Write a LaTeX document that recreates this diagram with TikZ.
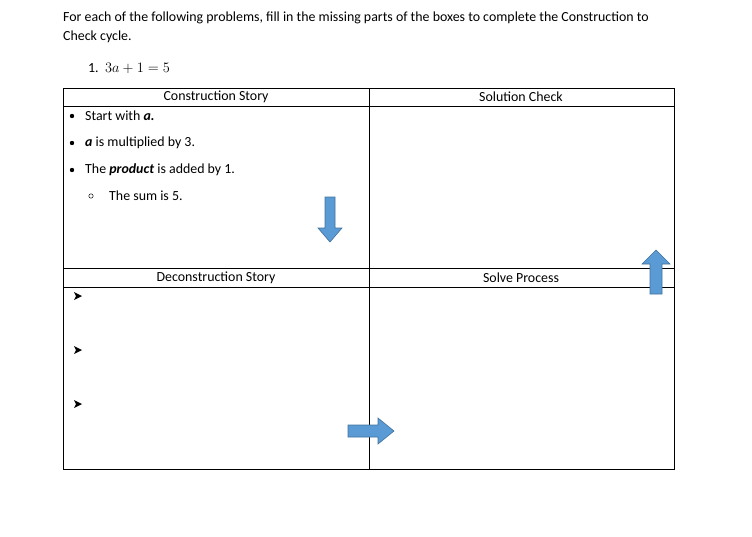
\documentclass[tikz,border=0pt]{standalone}
\usepackage{fontspec}
\setmainfont{Carlito}
\begin{document}
\begin{tikzpicture}[x=1pt,y=-1pt,
  txt/.style={anchor=west,inner sep=0pt,font=\fontsize{13.9}{16}\selectfont},
  hdr/.style={inner sep=0pt,font=\fontsize{13.9}{16}\selectfont},
  barrow/.style={fill={rgb,255:red,91;green,155;blue,213},draw={rgb,255:red,65;green,113;blue,156},line width=0.6pt},
  line/.style={line width=0.8pt}]
\useasboundingbox (0,0) rectangle (752,536);
\node[txt] (t1) at (63,18) {For each of the following problems, fill in the missing parts of the boxes to complete the Construction to};
\node[txt] (t2) at (63,37) {Check cycle.};
\node[txt] (eq) at (88,68) {1.\ \ \fontsize{15}{17}\selectfont$3a+1=5$};
% table
\draw[line] (63,88) rectangle (674,469);
\draw[line] (369,88) -- (369,469);
\draw[line] (63,106) -- (674,106);
\draw[line] (63,268) -- (674,268);
\draw[line] (63,287) -- (674,287);
\node[hdr] (h1) at (216,97) {Construction Story};
\node[hdr] (h2) at (521,97) {Solution Check};
\node[hdr] (h3) at (216,278) {Deconstruction Story};
\node[hdr] (h4) at (521,278) {Solve Process};
% bullets
\foreach \y in {116,143,170} \fill (72,\y) circle (2.2);
\draw[line width=0.5pt] (91,196) circle (2.2);
\node[txt] (b1) at (85,116) {Start with \textbf{\textit{a.}}};
\node[txt] (b2) at (85,143) {\textbf{\textit{a}} is multiplied by 3.};
\node[txt] (b3) at (85,170) {The \textbf{\textit{product}} is added by 1.};
\node[txt] (b4) at (109,196) {The sum is 5.};
% chevrons
\foreach \y in {296,350,404}
  \fill (74,\y-4) -- (82,\y) -- (74,\y+4) -- (76,\y) -- cycle;
% block arrows
\draw[barrow] (325,197) -- (335,197) -- (335,228) -- (342,228) -- (330,242) -- (318,228) -- (325,228) -- cycle;
\draw[barrow] (650,294) -- (662,294) -- (662,264) -- (670,264) -- (656,250) -- (642,264) -- (650,264) -- cycle;
\draw[barrow] (348,425) -- (378,425) -- (378,418) -- (394,431) -- (378,444) -- (378,437) -- (348,437) -- cycle;
\end{tikzpicture}
\end{document}
